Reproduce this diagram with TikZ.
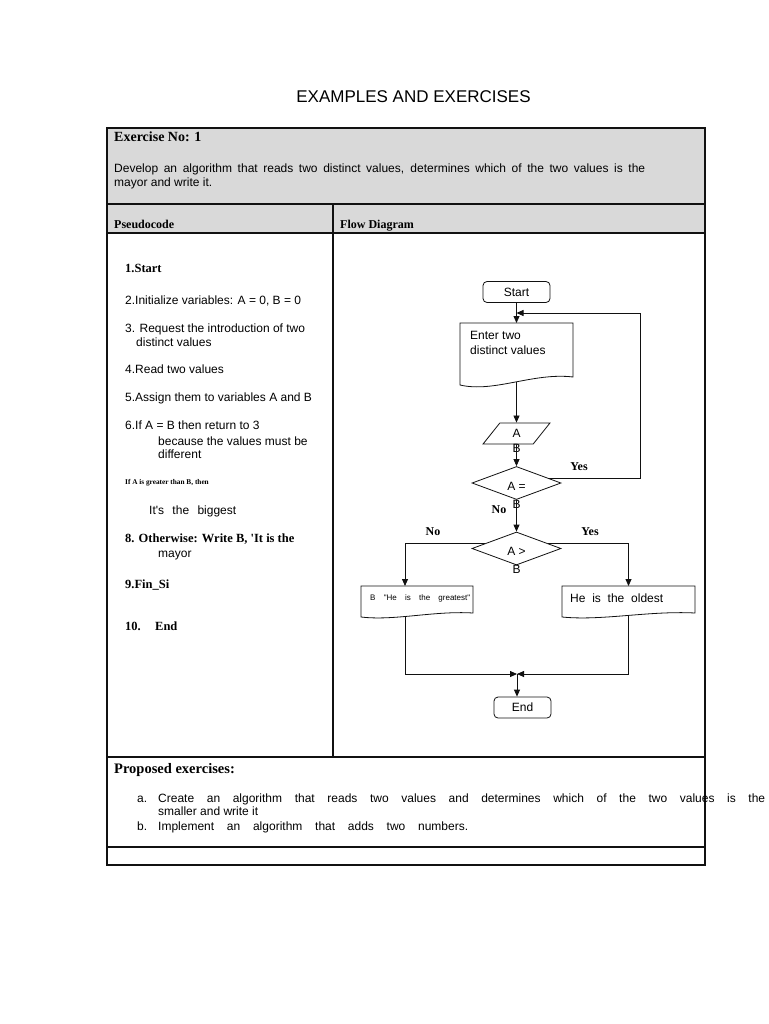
\documentclass[tikz,border=0pt]{standalone}
\usepackage{fontspec}
\setmainfont{Liberation Sans}[Ligatures=TeXOff]
\newfontfamily\timesfont{Liberation Serif}[Ligatures=TeXOff]
\usepackage{tikz}
\usetikzlibrary{calc,arrows.meta,shapes.geometric}
\definecolor{ink}{HTML}{111111}
\definecolor{head}{HTML}{D9D9D9}
\newcommand{\bodyfont}{\fontsize{12}{14}\selectfont}
\newcommand{\headfont}[1]{\timesfont\bfseries\fontsize{#1}{#1}\selectfont}
\newcommand{\docshape}[2]{%
  \draw[line] (#1.south west) -- (#1.north west) -- (#1.north east) -- ($(#1.south east)+(0,-#2)$)
    .. controls ($(#1.south)!0.3!(#1.south east)+(0,-1.6*#2)$) and ($(#1.south)!0.4!(#1.south west)+(0,#2)$) .. (#1.south west)
    coordinate[pos=0.5] (#1-b) -- cycle;}
\tikzset{
  frame/.style={draw=ink, line width=1.1pt},
  line/.style={draw=ink, line width=0.8pt},
  arr/.style={line, -{Triangle[length=7pt,width=6pt]}},
  term/.style={draw=ink, line width=0.8pt, rounded corners=4pt, minimum width=67pt, minimum height=21pt, inner sep=0pt, font=\bodyfont},
  docbox/.style={inner sep=0pt, outer sep=0pt},
  io/.style={trapezium, trapezium left angle=64, trapezium right angle=116, trapezium stretches,
    draw=ink, line width=0.8pt, minimum width=67pt, minimum height=21pt, inner sep=0pt, font=\bodyfont},
  dec/.style={diamond, aspect=2.7, draw=ink, line width=0.8pt, minimum width=89pt, minimum height=33pt,
    inner sep=0pt, text height=14pt, font=\bodyfont, label distance=-2.5pt},
  sub/.style={inner sep=0pt, font=\bodyfont},
  txt/.style={anchor=base west, inner sep=0pt, font=\bodyfont},
  hd/.style={anchor=base west, inner sep=0pt, font={\headfont{12.5}}},
  yn/.style={inner sep=0pt, font={\headfont{12}}}
}
\begin{document}
\begin{tikzpicture}[x=1pt,y=-1pt]
  \fill[white] (0,0) rectangle (768,1024);
  \useasboundingbox (0,0) rectangle (768,1024);

  % table
  \fill[head] (107,128) rectangle (705,233);
  \foreach \y in {204,233,757,847} \draw[frame] (107,\y) -- (705,\y);
  \draw[frame] (333,204) -- (333,757);
  \draw[frame] (107,128) rectangle (705,865);

  \node[anchor=base, inner sep=0pt, font=\fontsize{17}{19}\selectfont] (title) at (413.5,103) {EXAMPLES AND EXERCISES};
  \node[hd, font={\headfont{14}}] (exno) at (114,142) {Exercise No: 1};
  \node[txt] (ex1) at (114,173) {\makebox[531pt][s]{Develop an algorithm that reads two distinct values, determines which of the two values is the}};
  \node[txt] (ex2) at (114,187) {mayor and write it.};
  \node[hd, font={\headfont{12}}] (pseudo) at (114,229) {Pseudocode};
  \node[hd, font={\headfont{12}}] (flow) at (340,229) {Flow Diagram};

  % pseudocode
  \node[hd] (p1) at (125,272) {1.Start};
  \node[txt] (p2) at (125,304) {2.Initialize variables: A = 0, B = 0};
  \node[txt] (p3) at (125,332) {3. Request the introduction of two};
  \node[txt] (p3b) at (136,346) {distinct values};
  \node[txt] (p4) at (125,373) {4.Read two values};
  \node[txt] (p5) at (125,401) {5.Assign them to variables A and B};
  \node[txt] (p6) at (125,429) {6.If A = B then return to 3};
  \node[txt] (p6b) at (158,445) {because the values must be};
  \node[txt] (p6c) at (158,458) {different};
  \node[hd, font={\headfont{7.3}}] (p7) at (125,484) {If A is greater than B, then};
  \node[txt] (p7b) at (149,514) {\makebox[87pt][s]{It's the biggest}};
  \node[hd] (p8) at (125,542) {8. Otherwise: Write B, 'It is the};
  \node[txt] (p8b) at (158,557) {mayor};
  \node[hd] (p9) at (125,588) {9.Fin\_Si};
  \node[hd] (p10) at (125,630) {10.};
  \node[hd] (p10b) at (155,630) {End};

  % flow diagram
  \node[term] (start) at (516.5,292) {Start};
  \node[docbox, minimum width=113pt, minimum height=62pt] (enter) at (516.5,354) {};
  \docshape{enter}{8}
  \node[txt] (enter-t1) at (470,339) {Enter two};
  \node[txt] (enter-t2) at (470,354) {distinct values};
  \node[io, label={[sub]below:B}] (read) at (516.5,433.5) {A};
  \node[dec, label={[sub]below:B}] (eqd) at (516.5,483) {A =};
  \node[dec, label={[sub]below:B}] (gtd) at (516.5,548.5) {A >};
  \node[docbox, minimum width=112pt, minimum height=31pt] (great) at (417,601.5) {};
  \docshape{great}{4}
  \node[txt, font=\fontsize{8}{9}\selectfont] (great-t) at (370,600) {\makebox[100pt][s]{B "He is the greatest"}};
  \node[docbox, minimum width=133pt, minimum height=31pt] (oldest) at (628.5,601.5) {};
  \docshape{oldest}{4}
  \node[txt] (oldest-t) at (570,602) {\makebox[93pt][s]{He is the oldest}};
  \node[term, minimum width=57pt] (end) at (522.5,707.5) {End\hspace{11pt}};

  \coordinate (eqR) at ($(eqd.east)!0.3!(eqd.north)$);
  \coordinate (loop) at (640,313);
  \coordinate (gtL) at ($(gtd.west)!0.3!(gtd.north)$);
  \coordinate (gtR) at ($(gtd.east)!0.3!(gtd.north)$);
  \coordinate (merge) at (517,674);

  \draw[arr] (start) -- (enter);
  \draw[arr] (enter-b -| read.north) -- (read);
  \draw[arr] (read) -- (eqd);
  \draw[arr] (eqd) -- (gtd);
  \draw[arr] (eqR) -| (loop) -- (start |- loop);
  \draw[arr] (gtL) -| ($(great.north)+(-12,0)$);
  \draw[arr] (gtR) -| (oldest.north);
  \draw[arr] ($(great.south)+(-12,0)$) |- (merge);
  \draw[arr] (oldest.north |- oldest-b) |- (merge);
  \draw[arr] (merge) -- (merge |- end.north);

  \node[yn] (yes1) at (579,467) {Yes};
  \node[yn] (no1) at (499,510) {No};
  \node[yn] (no2) at (433,532) {No};
  \node[yn] (yes2) at (590,532) {Yes};

  % proposed exercises
  \node[hd, font={\headfont{14.5}}] (prop) at (114,773) {Proposed exercises:};
  \node[txt] (ea) at (137,802) {a.};
  \node[txt] (ea1) at (158,802) {\makebox[607pt][s]{Create an algorithm that reads two values and determines which of the two values is the}};
  \node[txt] (ea2) at (158,815) {smaller and write it};
  \node[txt] (eb) at (137,830) {b.};
  \node[txt] (eb1) at (158,830) {\makebox[310pt][s]{Implement an algorithm that adds two numbers.}};
\end{tikzpicture}
\end{document}
